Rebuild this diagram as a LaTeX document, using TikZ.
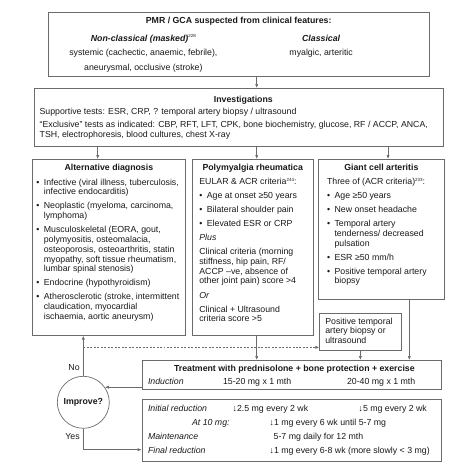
\documentclass[tikz,border=0pt]{standalone}
\usepackage{fontspec}
\setmainfont{Liberation Sans}
\usetikzlibrary{arrows.meta}

\definecolor{boxline}{gray}{0.42}
\definecolor{txt}{gray}{0.1}

\newcommand{\boxtext}[3]{\parbox[c][#2][t]{#1}{\raggedright #3}}
\newcommand{\heading}[1]{\makebox[\linewidth]{\bfseries #1}}
\newcommand{\itm}[1]{\makebox[7.5bp][l]{\textbullet}\mbox{#1}}
\newcommand{\cnt}[1]{\hspace*{7.5bp}\mbox{#1}}
\newcommand{\refno}[1]{\raisebox{3.3bp}{\normalfont\fontsize{4.5}{5}\selectfont #1}}

\tikzset{
  box/.style={draw=boxline, line width=0.7pt, anchor=north west, text=txt,
    font=\fontsize{8.8}{9.8}\selectfont},
  flow/.style={draw=boxline, line width=0.7pt, -{Latex[length=4pt,width=3.2pt]}},
  lbl/.style={text=txt, font=\fontsize{8.8}{9.8}\selectfont},
}

\begin{document}
\begin{tikzpicture}[x=1bp, y=-1bp]
  \useasboundingbox (0,0) rectangle (474,474);

  % columns of the vertical connectors
  \coordinate (leftcol) at (97.7,0);
  \coordinate (midcol) at (256.7,0);
  \coordinate (rightcol) at (388,0);
  \coordinate (gcacol) at (409.3,0);

  % Draw the boxes
  \node[box, inner xsep=0pt, inner ysep=5bp] (suspect) at (47.7,11.7) {\boxtext{381.3bp}{54.3bp}{%
    \fontsize{8.8}{15}\selectfont
    \heading{PMR / GCA suspected from clinical features:}\\[2.7bp]
    \parbox[t]{190.6bp}{\centering\bfseries\itshape Non-classical (masked)\refno{228}\\
      \normalfont systemic (cachectic, anaemic, febrile),\\ aneurysmal, occlusive (stroke)}%
    \parbox[t]{165bp}{\centering\bfseries\itshape Classical\\ \normalfont myalgic, arteritic}}};

  \node[box, inner xsep=5.3bp, inner ysep=8bp] (inv) at (34,88) {\boxtext{398.4bp}{41.7bp}{%
    \heading{\hspace*{9bp}Investigations}\\[2bp]
    Supportive tests: ESR, CRP, ? temporal artery biopsy / ultrasound\\[3.5bp]
    \mbox{“Exclusive” tests as indicated: CBP, RFT, LFT, CPK, bone biochemistry, glucose, RF / ACCP, ANCA,}\\
    TSH, electrophoresis, blood cultures, chest X-ray}};

  \node[box, inner xsep=4bp, inner ysep=4.4bp] (alt) at (32,159) {\boxtext{145bp}{167.2bp}{%
    \heading{Alternative diagnosis}\\[5.2bp]
    \itm{Infective (viral illness, tuberculosis,}\\
    \cnt{infective endocarditis)}\\[4.3bp]
    \itm{Neoplastic (myeloma, carcinoma,}\\
    \cnt{lymphoma)}\\[4.3bp]
    \itm{Musculoskeletal (EORA, gout,}\\
    \cnt{polymyositis, osteomalacia,}\\
    \cnt{osteoporosis, osteoarthritis, statin}\\
    \cnt{myopathy, soft tissue rheumatism,}\\
    \cnt{lumbar spinal stenosis)}\\[4.3bp]
    \itm{Endocrine (hypothyroidism)}\\[4.3bp]
    \itm{Atherosclerotic (stroke, intermittent}\\
    \cnt{claudication, myocardial}\\
    \cnt{ischaemia, aortic aneurysm)}}};

  \node[box, inner xsep=7.3bp, inner ysep=4.4bp] (pmr) at (191.7,159) {\boxtext{106.7bp}{167.2bp}{%
    \heading{Polymyalgia rheumatica}\\[4.5bp]
    \mbox{EULAR \& ACR criteria\refno{244}:}\\[4.3bp]
    \itm{Age at onset ≥50 years}\\[4.3bp]
    \itm{Bilateral shoulder pain}\\[4.3bp]
    \itm{Elevated ESR or CRP}\\[4.3bp]
    \textit{Plus}\\[4.3bp]
    \mbox{Clinical criteria (morning}\\
    \mbox{stiffness, hip pain, RF/}\\
    \mbox{ACCP –ve, absence of}\\
    \mbox{other joint pain) score >4}\\[4.3bp]
    \textit{Or}\\[4.3bp]
    \mbox{Clinical + Ultrasound}\\
    \mbox{criteria score >5}}};

  \node[box, inner xsep=8.7bp, inner ysep=4.4bp] (gca) at (318,159) {\boxtext{108.6bp}{131.2bp}{%
    \heading{Giant cell arteritis}\\[4.5bp]
    \mbox{Three of (ACR criteria)\refno{233}:}\\[4.3bp]
    \itm{Age ≥50 years}\\[4.3bp]
    \itm{New onset headache}\\[4.3bp]
    \itm{Temporal artery}\\
    \cnt{tenderness/ decreased}\\
    \cnt{pulsation}\\[4.3bp]
    \itm{ESR ≥50 mm/h}\\[4.3bp]
    \itm{Positive temporal artery}\\
    \cnt{biopsy}}};

  \node[box, inner xsep=5.7bp, inner ysep=4.4bp] (pos) at (319.3,313) {\boxtext{70bp}{28.2bp}{%
    \mbox{Positive temporal}\\ \mbox{artery biopsy or}\\ ultrasound}};

  \node[box, inner xsep=6bp, inner ysep=4.4bp] (treat) at (141.7,360) {\boxtext{287bp}{20.5bp}{%
    \heading{\hspace*{5.6bp}Treatment with prednisolone + bone protection + exercise}\\[3.8bp]
    \makebox[75bp][l]{\itshape Induction}\makebox[124bp][l]{15-20 mg x 1 mth}20-40 mg x 1 mth}};

  \node[box, inner xsep=6bp, inner ysep=6bp] (red) at (141.7,399) {\boxtext{287bp}{49.7bp}{%
    \makebox[84.6bp][l]{\itshape Initial reduction}\makebox[126bp][l]{↓2.5 mg every 2 wk}↓5 mg every 2 wk\\[4.3bp]
    \hspace*{44bp}\makebox[77.6bp][l]{\itshape At 10 mg:}\mbox{↓1 mg every 6 wk until 5-7 mg}\\[4.3bp]
    \makebox[125.6bp][l]{\itshape Maintenance}5-7 mg daily for 12 mth\\[4.3bp]
    \makebox[121.6bp][l]{\itshape Final reduction}\mbox{↓1 mg every 6-8 wk (more slowly < 3 mg)}}};

  \node[circle, draw=boxline, line width=0.7pt, minimum size=52bp, inner sep=0pt, text=txt,
    font=\fontsize{8.8}{9.8}\selectfont\bfseries] (improve) at (83.3,402.3) {Improve?};

  % Connectors
  \draw[flow] (midcol |- suspect.south) -- (midcol |- inv.north);
  \draw[flow] (leftcol |- inv.south) -- (leftcol |- alt.north);
  \draw[flow] (midcol |- inv.south) -- (midcol |- pmr.north);
  \draw[flow] (rightcol |- inv.south) -- (rightcol |- gca.north);
  \draw[flow] (midcol |- pmr.south) -- (midcol |- treat.north);
  \draw[flow] (gcacol |- gca.south) -- (gcacol |- treat.north);
  \draw[flow] (pos.south) -- (pos.south |- treat.north);
  \draw[flow] (treat.west |- improve.35) -- (improve.35);
  \draw[flow] (improve.north) -- node[lbl, pos=0.2, left] {No} (improve.north |- alt.south);
  \coordinate (yesin) at ([yshift=11.7bp]red.south west);
  \draw[flow] (improve.south) |- node[lbl, pos=0.18, left] {Yes} (yesin);
  \coordinate (dashin) at ([yshift=3.3bp]pos.south west);
  \draw[flow, dash pattern=on 2pt off 1.5pt] (improve.north |- dashin) -- (dashin);
\end{tikzpicture}
\end{document}
